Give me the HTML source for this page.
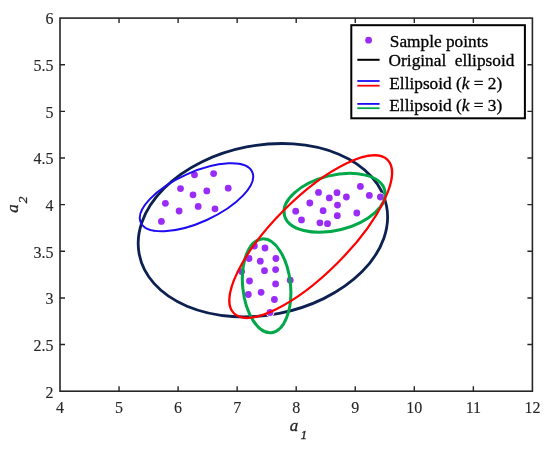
<!DOCTYPE html>
<html><head><meta charset="utf-8"><style>
html,body{margin:0;padding:0;background:#fff;width:550px;height:449px;overflow:hidden}
svg{display:block}
text{font-family:"Liberation Serif","Times New Roman",serif;fill:#262626;stroke:#262626;stroke-width:0.3px}
.lg text{fill:#000;stroke:#000}
.tk text{stroke-width:0.12px}
</style></head><body>
<svg width="550" height="449" viewBox="0 0 550 449">
<rect width="550" height="449" fill="#fff"/>

<ellipse cx="262.9" cy="230.2" rx="126.0" ry="84.8" transform="rotate(-11.12 262.9 230.2)" fill="none" stroke="#0d2150" stroke-width="2.8"/>
<g fill="#fff">
<circle cx="194.5" cy="174.8" r="4.4"/>
<circle cx="213.6" cy="173.6" r="4.4"/>
<circle cx="180.5" cy="188.6" r="4.4"/>
<circle cx="193" cy="194.8" r="4.4"/>
<circle cx="206.8" cy="190.9" r="4.4"/>
<circle cx="228.2" cy="188.2" r="4.4"/>
<circle cx="165.4" cy="203.3" r="4.4"/>
<circle cx="179.1" cy="211" r="4.4"/>
<circle cx="198.2" cy="206.4" r="4.4"/>
<circle cx="215" cy="208.8" r="4.4"/>
<circle cx="161.4" cy="221.4" r="4.4"/>
<circle cx="318.5" cy="192.4" r="4.4"/>
<circle cx="337" cy="192.7" r="4.4"/>
<circle cx="329.3" cy="197.9" r="4.4"/>
<circle cx="346.4" cy="197" r="4.4"/>
<circle cx="360.4" cy="186.4" r="4.4"/>
<circle cx="369.3" cy="195.4" r="4.4"/>
<circle cx="380.4" cy="197" r="4.4"/>
<circle cx="309.8" cy="203" r="4.4"/>
<circle cx="337.5" cy="205.1" r="4.4"/>
<circle cx="295.7" cy="211.2" r="4.4"/>
<circle cx="323.1" cy="210.7" r="4.4"/>
<circle cx="356.8" cy="213" r="4.4"/>
<circle cx="337.3" cy="215.7" r="4.4"/>
<circle cx="301.5" cy="219.9" r="4.4"/>
<circle cx="319.9" cy="222.8" r="4.4"/>
<circle cx="327.5" cy="223.7" r="4.4"/>
<circle cx="254.4" cy="246" r="4.4"/>
<circle cx="265" cy="248" r="4.4"/>
<circle cx="249" cy="258.5" r="4.4"/>
<circle cx="260.3" cy="261.2" r="4.4"/>
<circle cx="275.9" cy="258.5" r="4.4"/>
<circle cx="241.6" cy="271.6" r="4.4"/>
<circle cx="264.5" cy="270.7" r="4.4"/>
<circle cx="275.6" cy="269.6" r="4.4"/>
<circle cx="249.5" cy="281" r="4.4"/>
<circle cx="275.6" cy="283.9" r="4.4"/>
<circle cx="290.2" cy="280.2" r="4.4"/>
<circle cx="248.3" cy="294.5" r="4.4"/>
<circle cx="261.1" cy="292.3" r="4.4"/>
<circle cx="274.4" cy="299.5" r="4.4"/>
<circle cx="270" cy="312.5" r="4.4"/>
</g>
<g fill="#9a2cf8">
<circle cx="194.5" cy="174.8" r="3.4"/>
<circle cx="213.6" cy="173.6" r="3.4"/>
<circle cx="180.5" cy="188.6" r="3.4"/>
<circle cx="193" cy="194.8" r="3.4"/>
<circle cx="206.8" cy="190.9" r="3.4"/>
<circle cx="228.2" cy="188.2" r="3.4"/>
<circle cx="165.4" cy="203.3" r="3.4"/>
<circle cx="179.1" cy="211" r="3.4"/>
<circle cx="198.2" cy="206.4" r="3.4"/>
<circle cx="215" cy="208.8" r="3.4"/>
<circle cx="161.4" cy="221.4" r="3.4"/>
<circle cx="318.5" cy="192.4" r="3.4"/>
<circle cx="337" cy="192.7" r="3.4"/>
<circle cx="329.3" cy="197.9" r="3.4"/>
<circle cx="346.4" cy="197" r="3.4"/>
<circle cx="360.4" cy="186.4" r="3.4"/>
<circle cx="369.3" cy="195.4" r="3.4"/>
<circle cx="380.4" cy="197" r="3.4"/>
<circle cx="309.8" cy="203" r="3.4"/>
<circle cx="337.5" cy="205.1" r="3.4"/>
<circle cx="295.7" cy="211.2" r="3.4"/>
<circle cx="323.1" cy="210.7" r="3.4"/>
<circle cx="356.8" cy="213" r="3.4"/>
<circle cx="337.3" cy="215.7" r="3.4"/>
<circle cx="301.5" cy="219.9" r="3.4"/>
<circle cx="319.9" cy="222.8" r="3.4"/>
<circle cx="327.5" cy="223.7" r="3.4"/>
<circle cx="254.4" cy="246" r="3.4"/>
<circle cx="265" cy="248" r="3.4"/>
<circle cx="249" cy="258.5" r="3.4"/>
<circle cx="260.3" cy="261.2" r="3.4"/>
<circle cx="275.9" cy="258.5" r="3.4"/>
<circle cx="241.6" cy="271.6" r="3.4"/>
<circle cx="264.5" cy="270.7" r="3.4"/>
<circle cx="275.6" cy="269.6" r="3.4"/>
<circle cx="249.5" cy="281" r="3.4"/>
<circle cx="275.6" cy="283.9" r="3.4"/>
<circle cx="290.2" cy="280.2" r="3.4"/>
<circle cx="248.3" cy="294.5" r="3.4"/>
<circle cx="261.1" cy="292.3" r="3.4"/>
<circle cx="274.4" cy="299.5" r="3.4"/>
<circle cx="270" cy="312.5" r="3.4"/>
</g>
<ellipse cx="196.5" cy="197.3" rx="61.2" ry="24.9" transform="rotate(-24.43 196.5 197.3)" fill="none" stroke="#1e0cf0" stroke-width="2.0"/>
<ellipse cx="334.6" cy="202.8" rx="51.7" ry="27.5" transform="rotate(-14.0 334.6 202.8)" fill="none" stroke="#00a84a" stroke-width="3.0"/>
<ellipse cx="266.6" cy="285.8" rx="47.1" ry="23.9" transform="rotate(84.2 266.6 285.8)" fill="none" stroke="#00a84a" stroke-width="3.0"/>
<ellipse cx="310.7" cy="236.6" rx="108.6" ry="37.6" transform="rotate(-44.96 310.7 236.6)" fill="none" stroke="#ff0000" stroke-width="2.2"/>
<rect x="60.0" y="18.1" width="472.4" height="373.1" fill="none" stroke="#262626" stroke-width="1.6"/>
<path d="M119.05 391.2v-5M119.05 18.1v5M178.10 391.2v-5M178.10 18.1v5M237.15 391.2v-5M237.15 18.1v5M296.20 391.2v-5M296.20 18.1v5M355.25 391.2v-5M355.25 18.1v5M414.30 391.2v-5M414.30 18.1v5M473.35 391.2v-5M473.35 18.1v5M60.0 344.56h5M532.4 344.56h-5M60.0 297.93h5M532.4 297.93h-5M60.0 251.29h5M532.4 251.29h-5M60.0 204.65h5M532.4 204.65h-5M60.0 158.01h5M532.4 158.01h-5M60.0 111.38h5M532.4 111.38h-5M60.0 64.74h5M532.4 64.74h-5" stroke="#262626" stroke-width="1.4" fill="none"/>
<g class="tk" font-size="16" text-anchor="middle">
<text x="60.00" y="412.6">4</text>
<text x="119.05" y="412.6">5</text>
<text x="178.10" y="412.6">6</text>
<text x="237.15" y="412.6">7</text>
<text x="296.20" y="412.6">8</text>
<text x="355.25" y="412.6">9</text>
<text x="414.30" y="412.6">10</text>
<text x="473.35" y="412.6">11</text>
<text x="532.40" y="412.6">12</text>
</g><g class="tk" font-size="16" text-anchor="end">
<text x="53.6" y="397.50">2</text>
<text x="53.6" y="350.86">2.5</text>
<text x="53.6" y="304.23">3</text>
<text x="53.6" y="257.59">3.5</text>
<text x="53.6" y="210.95">4</text>
<text x="53.6" y="164.31">4.5</text>
<text x="53.6" y="117.67">5</text>
<text x="53.6" y="71.04">5.5</text>
<text x="53.6" y="24.40">6</text>
</g>
<text x="289.8" y="430.8" font-size="17" font-style="italic">a</text><text x="300.4" y="439.0" font-size="13.3" font-style="italic">1</text>
<g transform="translate(17.9 212.7) rotate(-90)"><text x="0" y="0" font-size="17" font-style="italic">a</text><text x="9.4" y="9.2" font-size="13.5" font-style="italic">2</text></g>
<rect x="351.3" y="25.2" width="173.6" height="93.1" fill="#fff" stroke="#000" stroke-width="2"/>
<circle cx="368.6" cy="40.2" r="3.4" fill="#9a2cf8"/>
<path d="M357.3 59.8h22.3" stroke="#000" stroke-width="2"/>
<path d="M357.3 81h22.3" stroke="#1e0cf0" stroke-width="1.8"/><path d="M357.3 85.7h22.3" stroke="#ff0000" stroke-width="1.8"/>
<path d="M357.3 103.9h22.3" stroke="#1e0cf0" stroke-width="1.8"/><path d="M357.3 108.2h22.3" stroke="#00a84a" stroke-width="1.8"/>
<g class="lg" font-size="17.3">
<text x="389.8" y="46.9">Sample points</text>
<text x="388.6" y="65.5" xml:space="preserve" style="white-space:pre">Original  ellipsoid</text>
<text x="389.3" y="88.7">Ellipsoid (<tspan font-style="italic">k</tspan> = 2)</text>
<text x="389.3" y="110.6">Ellipsoid (<tspan font-style="italic">k</tspan> = 3)</text>
</g>
</svg></body></html>
